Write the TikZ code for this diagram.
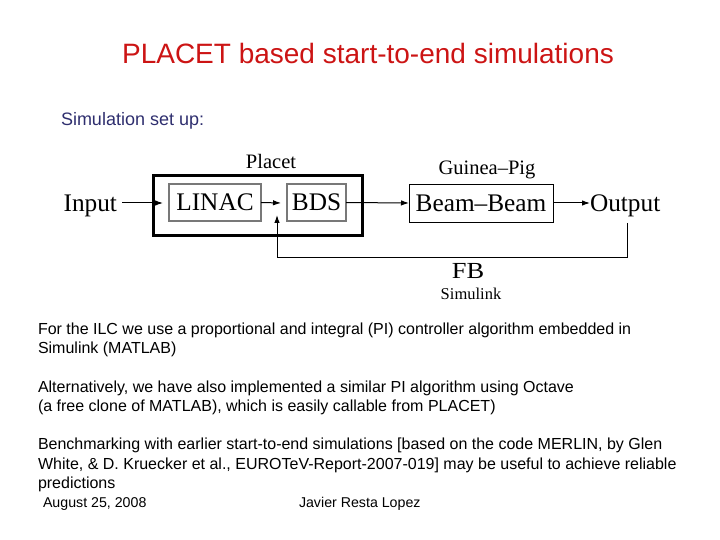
\documentclass[tikz,border=0pt]{standalone}
\usepackage{fontspec}
\setmainfont{Liberation Sans}
\newfontfamily\serifdiag{Liberation Serif}
\usetikzlibrary{arrows.meta}
\definecolor{titlered}{RGB}{204,20,20}
\definecolor{subblue}{RGB}{46,46,110}
\definecolor{boxgray}{RGB}{120,120,120}
\begin{document}
\begin{tikzpicture}[x=1pt,y=-1pt,
  every node/.style={inner sep=0pt,outer sep=0pt},
  title/.style={text=titlered,font=\fontsize{28}{32}\selectfont},
  sub/.style={text=subblue,font=\fontsize{18}{21}\selectfont,anchor=west},
  body/.style={anchor=west,font=\fontsize{16}{19.5}\selectfont,align=left},
  foot/.style={anchor=west,font=\fontsize{14.2}{16}\selectfont},
  dlab/.style={font=\serifdiag\fontsize{25.3}{28}\selectfont},
  slab/.style={font=\serifdiag\fontsize{20.5}{23}\selectfont},
  inbox/.style={draw=boxgray,line width=1.3pt,minimum height=37pt,font=\serifdiag\fontsize{25.3}{28}\selectfont},
  bbbox/.style={draw=black,line width=0.9pt,minimum height=38pt,font=\serifdiag\fontsize{25.3}{28}\selectfont},
  arr/.style={line width=1pt,-{Latex[length=8pt,width=5.5pt]}},
  ln/.style={line width=1pt}]
\useasboundingbox (0,0) rectangle (720,540);
\node[title] (t) at (368,53) {PLACET based start-to-end simulations};
\node[sub] (s) at (61,121) {Simulation set up:};
% diagram
\node[draw,line width=3pt,minimum width=209pt,minimum height=59pt] (outer) at (257.5,205.5) {};
\node[slab] (placet) at (271,161) {Placet};
\node[inbox,minimum width=92pt] (linac) at (215,202.5) {LINAC};
\node[inbox,minimum width=59pt] (bds) at (316.5,202.5) {BDS};
\node[dlab,anchor=east] (input) at (117,206) {Input};
\node[bbbox,minimum width=144pt] (bb) at (481,203) {Beam\textendash Beam};
\node[slab] (gp) at (487,170) {Guinea\textendash Pig};
\node[dlab,anchor=west] (out) at (590,206) {Output};
\node[font=\serifdiag\fontsize{23}{26}\selectfont,xscale=1.15] (fb) at (468,271) {FB};
\node[font=\serifdiag\fontsize{16.5}{19}\selectfont] (sim) at (471,294) {Simulink};
\coordinate (j) at (281,203);
\coordinate (fbtip) at (277,215);
\coordinate (c1) at (627,257);
\coordinate (c2) at (277,257);
\draw[arr] (input.east |- 0,203) ++(5,0) -- (163,203);
\draw[arr] (linac.east) -- (j);
\draw[arr] (bds.east) -- (bb.west);
\draw[arr] (bb.east) -- (out.west |- bb.east);
\draw[ln] (627,223) -- (c1) -- (c2);
\draw[arr] (c2) -- (fbtip);
% body text
\node[body] (p1) at (38,340) {For the ILC we use a proportional and integral (PI) controller algorithm embedded in\\Simulink (MATLAB)};
\node[body] (p2) at (38,398) {Alternatively, we have also implemented a similar PI algorithm using Octave\\(a free clone of MATLAB), which is easily callable from PLACET)};
\node[body] (p3) at (38,465) {Benchmarking with earlier start-to-end simulations [based on the code MERLIN, by Glen\\White, \& D. Kruecker et al., EUROTeV-Report-2007-019] may be useful to achieve reliable\\predictions};
\node[foot] (f1) at (43,504) {August 25, 2008};
\node[foot] (f2) at (299,504) {Javier Resta Lopez};
\end{tikzpicture}
\end{document}
